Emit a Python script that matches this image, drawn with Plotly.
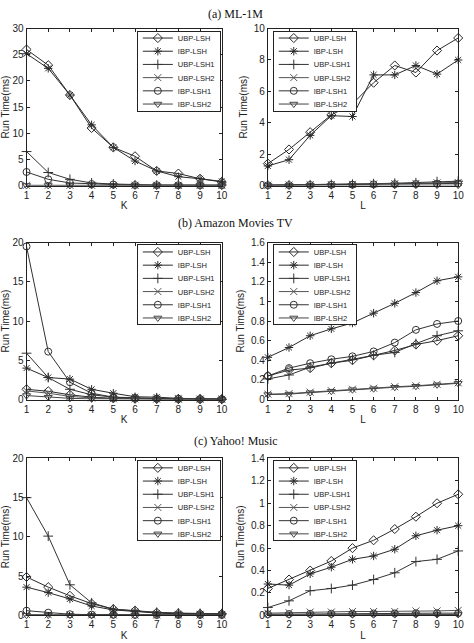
import plotly.graph_objects as go

K = [1, 2, 3, 4, 5, 6, 7, 8, 9, 10]
L = [1, 2, 3, 4, 5, 6, 7, 8, 9, 10]
series_names = ["UBP-LSH", "IBP-LSH", "UBP-LSH1", "UBP-LSH2", "IBP-LSH1", "IBP-LSH2"]

# (a) ML-1M, varying K
ml_k_ubp_lsh = [26.0, 23.0, 17.3, 11.0, 7.3, 5.6, 2.8, 2.3, 1.3, 0.7]
ml_k_ibp_lsh = [25.2, 22.4, 17.3, 11.6, 7.3, 4.7, 2.8, 1.7, 1.3, 0.8]
ml_k_ubp_lsh1 = [6.5, 2.5, 1.2, 0.5, 0.3, 0.15, 0.1, 0.1, 0.1, 0.1]
ml_k_ubp_lsh2 = [0.05, 0.05, 0.05, 0.05, 0.05, 0.05, 0.05, 0.05, 0.05, 0.05]
ml_k_ibp_lsh1 = [2.6, 1.2, 0.5, 0.3, 0.2, 0.1, 0.08, 0.06, 0.05, 0.05]
ml_k_ibp_lsh2 = [0.02, 0.02, 0.02, 0.02, 0.02, 0.02, 0.02, 0.02, 0.02, 0.02]

# (a) ML-1M, varying L
ml_l_ubp_lsh = [1.4, 2.3, 3.4, 4.5, 5.2, 6.55, 7.65, 7.2, 8.6, 9.4]
ml_l_ibp_lsh = [1.25, 1.65, 3.2, 4.45, 4.4, 7.05, 7.05, 7.65, 7.1, 8.0]
ml_l_ubp_lsh1 = [0.03, 0.04, 0.05, 0.07, 0.09, 0.12, 0.15, 0.18, 0.25, 0.28]
ml_l_ubp_lsh2 = [0.03, 0.04, 0.05, 0.06, 0.08, 0.1, 0.12, 0.14, 0.18, 0.2]
ml_l_ibp_lsh1 = [0.02, 0.03, 0.04, 0.05, 0.06, 0.08, 0.09, 0.1, 0.12, 0.14]
ml_l_ibp_lsh2 = [0.01, 0.01, 0.015, 0.015, 0.02, 0.02, 0.02, 0.025, 0.03, 0.03]

# (b) Amazon Movies TV, varying K
am_k_ubp_lsh = [1.3, 1.05, 0.6, 0.3, 0.15, 0.1, 0.08, 0.05, 0.05, 0.04]
am_k_ibp_lsh = [4.0, 2.8, 2.6, 1.3, 0.8, 0.35, 0.3, 0.15, 0.1, 0.05]
am_k_ubp_lsh1 = [5.9, 2.8, 1.3, 0.6, 0.3, 0.15, 0.1, 0.08, 0.05, 0.04]
am_k_ubp_lsh2 = [1.1, 0.8, 0.4, 0.2, 0.1, 0.08, 0.05, 0.04, 0.03, 0.03]
am_k_ibp_lsh1 = [19.5, 6.1, 2.2, 0.8, 0.3, 0.2, 0.1, 0.08, 0.05, 0.04]
am_k_ibp_lsh2 = [0.5, 0.3, 0.15, 0.08, 0.05, 0.04, 0.03, 0.03, 0.02, 0.02]

# (b) Amazon Movies TV, varying L
am_l_ubp_lsh = [0.24, 0.30, 0.32, 0.37, 0.40, 0.45, 0.50, 0.56, 0.60, 0.65]
am_l_ibp_lsh = [0.43, 0.53, 0.65, 0.72, 0.78, 0.88, 0.98, 1.09, 1.21, 1.25]
am_l_ubp_lsh1 = [0.21, 0.25, 0.33, 0.37, 0.41, 0.45, 0.48, 0.57, 0.65, 0.70]
am_l_ubp_lsh2 = [0.055, 0.06, 0.075, 0.09, 0.105, 0.115, 0.13, 0.14, 0.155, 0.17]
am_l_ibp_lsh1 = [0.24, 0.32, 0.37, 0.41, 0.44, 0.49, 0.58, 0.71, 0.77, 0.80]
am_l_ibp_lsh2 = [0.05, 0.055, 0.07, 0.085, 0.10, 0.11, 0.125, 0.135, 0.15, 0.165]

# (c) Yahoo! Music, varying K
ya_k_ubp_lsh = [4.9, 3.6, 2.5, 1.5, 0.8, 0.6, 0.35, 0.25, 0.2, 0.2]
ya_k_ibp_lsh = [3.6, 2.9, 2.1, 1.2, 0.7, 0.5, 0.3, 0.2, 0.2, 0.15]
ya_k_ubp_lsh1 = [15.0, 10.1, 3.9, 1.6, 0.8, 0.6, 0.4, 0.3, 0.25, 0.2]
ya_k_ubp_lsh2 = [0.1, 0.08, 0.06, 0.05, 0.05, 0.05, 0.05, 0.05, 0.05, 0.05]
ya_k_ibp_lsh1 = [0.6, 0.35, 0.15, 0.1, 0.08, 0.06, 0.05, 0.05, 0.05, 0.05]
ya_k_ibp_lsh2 = [0.03, 0.03, 0.03, 0.03, 0.03, 0.03, 0.03, 0.03, 0.03, 0.03]

# (c) Yahoo! Music, varying L
ya_l_ubp_lsh = [0.24, 0.32, 0.40, 0.485, 0.60, 0.67, 0.77, 0.88, 1.0, 1.08]
ya_l_ibp_lsh = [0.28, 0.27, 0.37, 0.43, 0.50, 0.53, 0.59, 0.71, 0.76, 0.80]
ya_l_ubp_lsh1 = [0.07, 0.13, 0.22, 0.24, 0.27, 0.32, 0.38, 0.48, 0.50, 0.575]
ya_l_ubp_lsh2 = [0.02, 0.025, 0.03, 0.03, 0.035, 0.035, 0.035, 0.04, 0.04, 0.045]
ya_l_ibp_lsh1 = [0.01, 0.012, 0.014, 0.015, 0.016, 0.017, 0.018, 0.019, 0.02, 0.02]
ya_l_ibp_lsh2 = [0.005, 0.005, 0.005, 0.006, 0.006, 0.006, 0.007, 0.007, 0.007, 0.008]

panel_titles = ["(a) ML-1M", "(b) Amazon Movies TV", "(c) Yahoo! Music"]

panels = [
    (K, [ml_k_ubp_lsh, ml_k_ibp_lsh, ml_k_ubp_lsh1, ml_k_ubp_lsh2, ml_k_ibp_lsh1, ml_k_ibp_lsh2], "K", [0, 30], [0, 5, 10, 15, 20, 25, 30], "right"),
    (L, [ml_l_ubp_lsh, ml_l_ibp_lsh, ml_l_ubp_lsh1, ml_l_ubp_lsh2, ml_l_ibp_lsh1, ml_l_ibp_lsh2], "L", [0, 10], [0, 2, 4, 6, 8, 10], "left"),
    (K, [am_k_ubp_lsh, am_k_ibp_lsh, am_k_ubp_lsh1, am_k_ubp_lsh2, am_k_ibp_lsh1, am_k_ibp_lsh2], "K", [0, 20], [0, 5, 10, 15, 20], "right"),
    (L, [am_l_ubp_lsh, am_l_ibp_lsh, am_l_ubp_lsh1, am_l_ubp_lsh2, am_l_ibp_lsh1, am_l_ibp_lsh2], "L", [0, 1.6], [0, 0.2, 0.4, 0.6, 0.8, 1.0, 1.2, 1.4, 1.6], "left"),
    (K, [ya_k_ubp_lsh, ya_k_ibp_lsh, ya_k_ubp_lsh1, ya_k_ubp_lsh2, ya_k_ibp_lsh1, ya_k_ibp_lsh2], "K", [0, 20], [0, 5, 10, 15, 20], "right"),
    (L, [ya_l_ubp_lsh, ya_l_ibp_lsh, ya_l_ubp_lsh1, ya_l_ubp_lsh2, ya_l_ibp_lsh1, ya_l_ibp_lsh2], "L", [0, 1.4], [0, 0.2, 0.4, 0.6, 0.8, 1.0, 1.2, 1.4], "left"),
]

W, H = 474, 643
col_x = [(24, 223), (270, 464)]
row_y = [(23, 183), (241, 401), (461, 621)]
title_y = [8, 221, 443]

symbols = ["diamond-open", "asterisk-open", "cross-thin-open", "x-thin-open", "circle-open", "triangle-down-open"]
line_colors = ["#2a2a2a", "#2a2a2a", "#333333", "#555555", "#333333", "#444444"]

SANS = "Liberation Sans, Arial, sans-serif"
SERIF = "Liberation Serif, Times New Roman, serif"

fig = go.Figure()
layout = dict(
    width=W, height=H,
    margin=dict(l=0, r=0, t=0, b=0),
    paper_bgcolor="white", plot_bgcolor="white",
    font=dict(family=SANS, size=10, color="#222"),
    annotations=[],
)

for i, (xs, ys_list, xt, yr, ytv, side) in enumerate(panels):
    r, c = divmod(i, 2)
    n = i + 1
    xa = "x" if n == 1 else f"x{n}"
    ya = "y" if n == 1 else f"y{n}"
    lg = "legend" if n == 1 else f"legend{n}"
    for j, (name, ys) in enumerate(zip(series_names, ys_list)):
        fig.add_trace(go.Scatter(
            x=xs, y=ys, name=name, mode="lines+markers",
            xaxis=xa, yaxis=ya, legend=lg,
            line=dict(color=line_colors[j], width=1),
            marker=dict(symbol=symbols[j], size=7, color=line_colors[j],
                        line=dict(color=line_colors[j], width=1)),
            cliponaxis=False,
        ))
    x0, x1 = col_x[c]
    y0, y1 = row_y[r]
    xkey = "xaxis" if n == 1 else f"xaxis{n}"
    ykey = "yaxis" if n == 1 else f"yaxis{n}"
    ticktext = [("%g" % v) for v in ytv]
    layout[xkey] = dict(
        domain=[x0 / W, x1 / W], anchor=ya, range=[1, 10],
        tickvals=K, ticks="inside", ticklen=3, tickcolor="#222",
        showline=True, linecolor="#222", linewidth=1, mirror="ticks",
        showgrid=False, zeroline=False,
        tickfont=dict(size=10, family=SANS),
        title=dict(text=xt, font=dict(size=10, family=SANS), standoff=2),
    )
    layout[ykey] = dict(
        domain=[1 - y1 / H, 1 - y0 / H], anchor=xa, range=yr,
        tickvals=ytv, ticktext=ticktext, ticks="inside", ticklen=3, tickcolor="#222",
        showline=True, linecolor="#222", linewidth=1, mirror="ticks",
        showgrid=False, zeroline=False,
        tickfont=dict(size=10, family=SANS),
        title=dict(text="Run Time(ms)", font=dict(size=10, family=SANS), standoff=4),
    )
    if side == "right":
        lx, xanchor = x1 / W - 0.002, "right"
    else:
        lx, xanchor = (x0 + 5) / W, "left"
    layout[lg] = dict(
        x=lx, xanchor=xanchor, y=1 - (y0 + 2) / H, yanchor="top",
        bgcolor="white", bordercolor="#222", borderwidth=1,
        font=dict(size=7.5, family=SANS, color="#222"),
        itemwidth=30, tracegroupgap=0,
    )

for t, ty in zip(panel_titles, title_y):
    layout["annotations"].append(dict(
        text=t, x=0.5, xref="paper", y=1 - ty / H, yref="paper",
        xanchor="center", yanchor="middle", showarrow=False,
        font=dict(family=SERIF, size=12, color="#111"),
    ))

fig.update_layout(**layout)

# Remove the page margin and compact the legend rows (plotly enforces a tall minimum row height)
post_js = """
(function(){
  document.documentElement.style.margin = '0';
  document.body.style.margin = '0';
  document.body.style.overflow = 'hidden';
  var gd = document.getElementById('{plot_id}');
  function compact(){
    try {
      var groups = gd.querySelectorAll('g.infolayer > g');
      groups.forEach(function(lg){
        var tr = lg.querySelectorAll('g.traces');
        if (!tr.length) { return; }
        var step = 13.2, top = 7.5;
        for (var i = 0; i < tr.length; i++) {
          var t = tr[i];
          var s = t.getAttribute('transform') || '';
          var m = s.match(/translate\\(\\s*([-0-9.eE]+)/);
          var x = m ? m[1] : '0';
          t.setAttribute('transform', 'translate(' + x + ',' + (top + i * step) + ')');
        }
        var h = top + (tr.length - 1) * step + 6.5;
        var bg = lg.querySelector('rect.bg');
        if (bg) { bg.setAttribute('height', h); }
      });
    } catch (e) {}
  }
  compact();
  if (gd && gd.on) { gd.on('plotly_afterplot', compact); }
  setTimeout(compact, 30);
  setTimeout(compact, 200);
  setTimeout(compact, 800);
})();
"""
fig.write_html("out.html", post_script=post_js, config={"displayModeBar": False})
